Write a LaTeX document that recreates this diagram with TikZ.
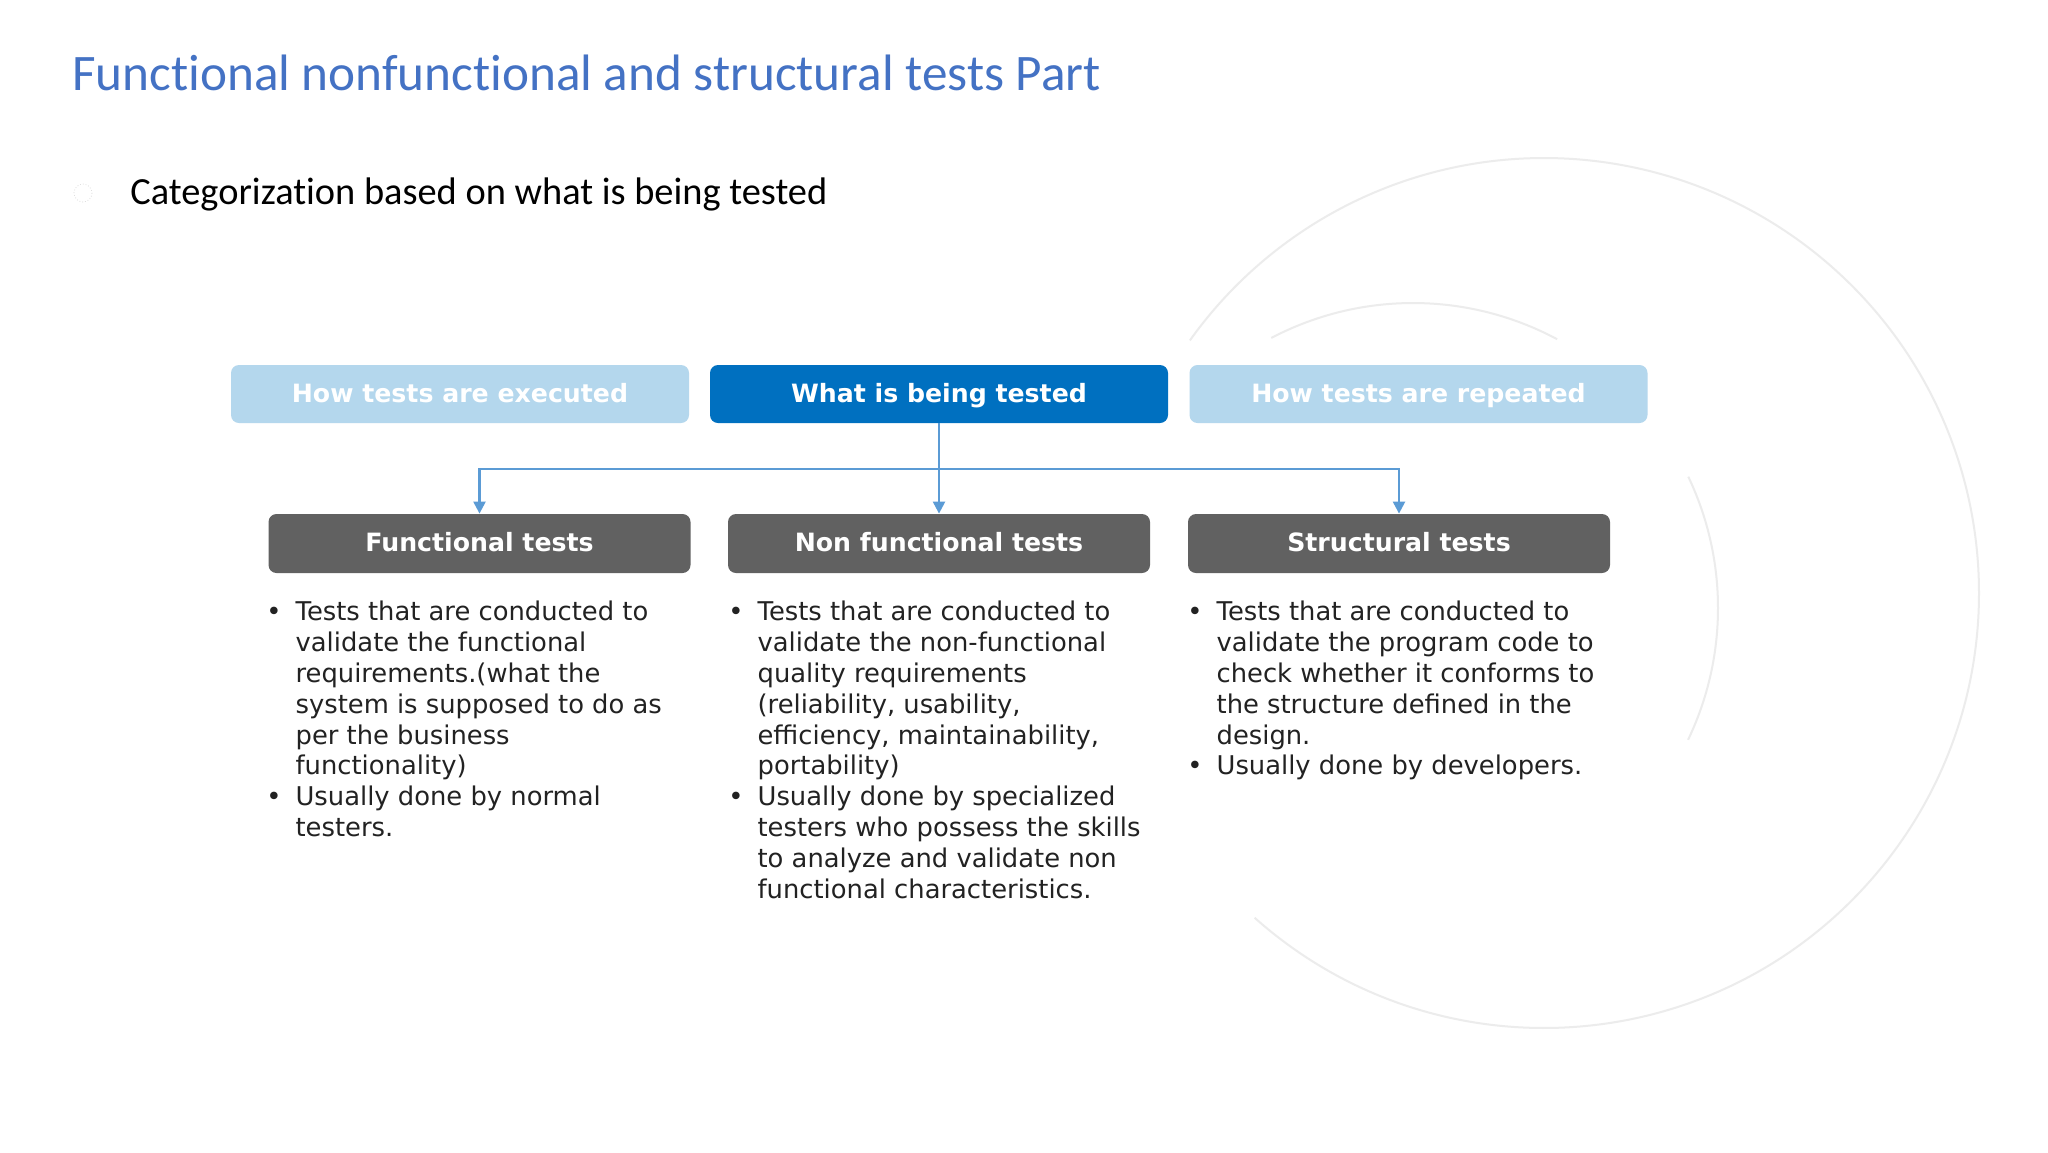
\documentclass[tikz,border=0pt]{standalone}
\usepackage{fontspec}
\setmainfont{DejaVu Sans}
\newfontfamily\calibri[Ligatures=NoCommon]{Carlito}
\usepackage{tikz}
\usetikzlibrary{arrows.meta}
\definecolor{titleblue}{HTML}{4472C4}
\definecolor{tabblue}{HTML}{0070C0}
\definecolor{tablight}{HTML}{B4D7ED}
\definecolor{catgray}{HTML}{616161}
\definecolor{linkblue}{HTML}{5B9BD5}
\definecolor{ringgray}{HTML}{ECECEC}
\definecolor{bodyink}{HTML}{222222}
\tikzset{
	head/.tip={Triangle[width=6pt,length=6pt]},
	tab/.style={rounded corners=4pt, minimum width=229pt, minimum height=29pt,
		inner sep=0pt, text=white, text height=9.2pt, text depth=1.2pt,
		font=\bfseries\fontsize{12.6}{15}\selectfont},
	tabon/.style={tab, fill=tabblue},
	taboff/.style={tab, fill=tablight},
	cat/.style={tab, fill=catgray, minimum width=211pt, minimum height=29.5pt},
	notes/.style={anchor=north west, inner sep=0pt, text=bodyink,
		font=\fontsize{12.9}{15.4}\selectfont},
	link/.style={draw=linkblue, line width=1.1pt, -head},
	ring/.style={draw=ringgray, line width=1pt},
}

\begin{document}
\begin{tikzpicture}[x=0.5pt, y=-0.5pt]
	% page, one unit = one pixel of the slide
	\fill[white] (0,0) rectangle (2048,1152);
	\useasboundingbox (0,0) rectangle (2048,1152);
	
	% Background rings
	\draw[ring] (1544,593) ++(131.7:435) arc[start angle=131.7, end angle=-144.5, radius=435];
	\draw[ring] (1413,608) ++(-61.8:305) arc[start angle=-61.8, end angle=-117.7, radius=305];
	\draw[ring] (1413,608) ++(-25.5:305) arc[start angle=-25.5, end angle=25.6, radius=305];
	
	% Heading
	\node[anchor=base west, inner sep=0pt, text=titleblue, font=\calibri\fontsize{25.6}{30}\selectfont]
		(title) at (72,90) {Functional nonfunctional and structural tests Part};
	\draw[gray!25, densely dotted] (83,193) circle[radius=9];
	\node[anchor=base west, inner sep=0pt, font=\calibri\fontsize{19.2}{23}\selectfont]
		(subtitle) at (130,204) {Categorization based on what is being tested};
	
	% Categories
	\node[taboff] (howexec) at (460,394) {How tests are executed};
	\node[tabon]  (whatbox) at (939,394) {What is being tested};
	\node[taboff] (howrep)  at (1418.5,394) {How tests are repeated};
	
	% Kinds of tests
	\node[cat] (func)    at (479.5,543.5) {Functional tests};
	\node[cat] (nonfunc) at (939,543.5) {Non functional tests};
	\node[cat] (struct)  at (1399,543.5) {Structural tests};
	
	% Connectors
	\coordinate (fork) at (939,469);
	\draw[link] (whatbox.south) -- (nonfunc.north);
	\draw[link] (fork) -| (func.north);
	\draw[link] (fork) -| (struct.north);
	
	% Notes
	\node[notes] (funcnotes) at (266,599) {\begin{tabular}{@{}l@{\hspace{7pt}}l@{}}
		\textbullet & Tests that are conducted to\\
		& validate the functional\\
		& requirements.(what the\\
		& system is supposed to do as\\
		& per the business\\
		& functionality)\\
		\textbullet & Usually done by normal\\
		& testers.
	\end{tabular}};
	\node[notes] (nonfuncnotes) at (728,599) {\begin{tabular}{@{}l@{\hspace{7pt}}l@{}}
		\textbullet & Tests that are conducted to\\
		& validate the non-functional\\
		& quality requirements\\
		& (reliability, usability,\\
		& efficiency, maintainability,\\
		& portability)\\
		\textbullet & Usually done by specialized\\
		& testers who possess the skills\\
		& to analyze and validate non\\
		& functional characteristics.
	\end{tabular}};
	\node[notes] (structnotes) at (1187,599) {\begin{tabular}{@{}l@{\hspace{7pt}}l@{}}
		\textbullet & Tests that are conducted to\\
		& validate the program code to\\
		& check whether it conforms to\\
		& the structure defined in the\\
		& design.\\
		\textbullet & Usually done by developers.
	\end{tabular}};
\end{tikzpicture}
\end{document}
